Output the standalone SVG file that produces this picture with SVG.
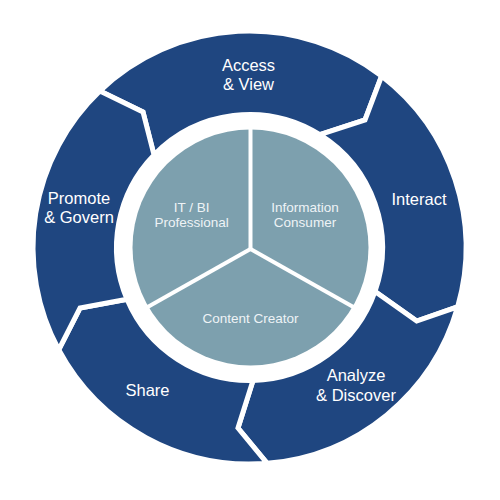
<svg xmlns="http://www.w3.org/2000/svg" width="500" height="500" viewBox="0 0 500 500">
<style>
.seg{fill:#1f4680;stroke:#ffffff;stroke-width:5;stroke-linejoin:miter}
.ot{font-family:"Liberation Sans",Arial,sans-serif;font-size:16.5px;fill:#ffffff;text-anchor:middle}
.it{font-family:"Liberation Sans",Arial,sans-serif;font-size:13.5px;fill:#eef3f6;text-anchor:middle}
.core{fill:#7da0ae}
.spoke{stroke:#ffffff;stroke-width:4;fill:none}
</style>
<rect width="500" height="500" fill="#ffffff"/>
<g id="ring">
<g id="access-view">
<path class="seg" d="M99.9,91 A216.5,216.5 0 0 1 381.6,76 L365,120 L319.8,134.6 A133,133 0 0 0 154,154.9 L143,112 Z"/>
<text class="ot" x="248.5" y="71">Access</text>
<text class="ot" x="248.5" y="90">&amp; View</text>
</g>
<g id="interact">
<path class="seg" d="M381.6,76 A216.5,216.5 0 0 1 457.7,306.8 L416.7,321 L375,291.5 A133,133 0 0 0 319.8,134.6 L365,120 Z"/>
<text class="ot" x="419" y="205">Interact</text>
</g>
<g id="analyze-discover">
<path class="seg" d="M457.7,306.8 A216.5,216.5 0 0 1 267.2,463.3 L238,428 L253,380.5 A133,133 0 0 0 375,291.5 L416.7,321 Z"/>
<text class="ot" x="356" y="381">Analyze</text>
<text class="ot" x="356" y="400.5">&amp; Discover</text>
</g>
<g id="share">
<path class="seg" d="M267.2,463.3 A216.5,216.5 0 0 1 58.7,349.8 L80,308 L127,299.3 A133,133 0 0 0 253,380.5 L238,428 Z"/>
<text class="ot" x="147.5" y="396">Share</text>
</g>
<g id="promote-govern">
<path class="seg" d="M58.7,349.8 A216.5,216.5 0 0 1 99.9,91 L143,112 L154,154.9 A133,133 0 0 0 127,299.3 L80,308 Z"/>
<text class="ot" x="79" y="203.5">Promote</text>
<text class="ot" x="79" y="223">&amp; Govern</text>
</g>
</g>
<g id="core">
<circle class="core" cx="250.5" cy="247.5" r="118"/>
<g id="connectors">
<line class="spoke" x1="250.5" y1="249" x2="250.5" y2="126"/>
<line class="spoke" x1="250.5" y1="249" x2="145" y2="308.5"/>
<line class="spoke" x1="250.5" y1="249" x2="356" y2="308.5"/>
</g>
<g id="it-bi-professional">
<text class="it" x="191.7" y="211.7">IT / BI</text>
<text class="it" x="191.7" y="227.3">Professional</text>
</g>
<g id="information-consumer">
<text class="it" x="305" y="211.7">Information</text>
<text class="it" x="305" y="227.3">Consumer</text>
</g>
<g id="content-creator">
<text class="it" x="250.5" y="322.7">Content Creator</text>
</g>
</g>
</svg>
